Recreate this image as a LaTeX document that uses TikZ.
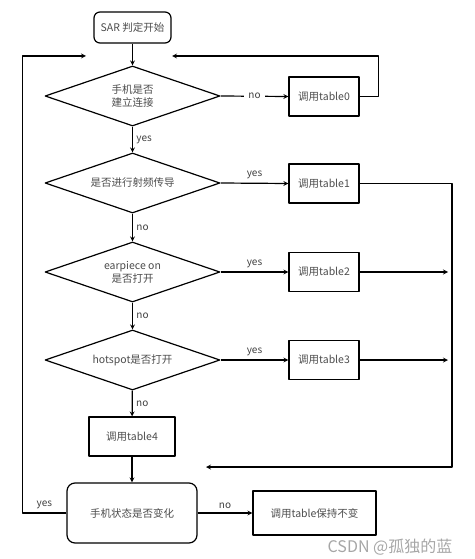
\documentclass[tikz,border=0pt]{standalone}
\usepackage{fontspec}
\setmainfont{Noto Sans CJK SC}
\usetikzlibrary{shapes.geometric}
\begin{document}
\begin{tikzpicture}[x=1pt,y=-1pt,line width=1.2pt,line join=round,>=stealth,
	font=\fontsize{10.5}{13}\selectfont,text=black!70,
	startbox/.style={draw,rounded corners=6pt,minimum width=77pt,minimum height=31pt,inner sep=2pt},
	decide/.style={draw,diamond,aspect=2.9,minimum width=175pt,minimum height=60pt,inner sep=0pt,align=center},
	tablebox/.style={draw,minimum width=70pt,minimum height=39pt,inner sep=2pt},
	lbl/.style={font=\fontsize{10}{12}\selectfont,text=black!75}]
	\useasboundingbox (0,0) rectangle (474,559);
	% main column
	\node[startbox] (start) at (132.5,27.5) {SAR 判定开始};
	\node[decide] (d1) at (132.5,96) {手机是否\\建立连接};
	\node[decide] (d2) at (132.5,183) {是否进行射频传导};
	\node[decide] (d3) at (132.5,272) {earpiece on\\是否打开};
	\node[decide] (d4) at (132.5,360) {hotspot是否打开};
	\node[tablebox,minimum width=86pt] (t4) at (132,436.5) {调用table4};
	\node[draw,rounded corners=8pt,minimum width=130pt,minimum height=60pt] (chg) at (132,513) {手机状态是否变化};
	% right column
	\node[tablebox] (t0) at (324,96.5) {调用table0};
	\node[tablebox] (t1) at (324,183.5) {调用table1};
	\node[tablebox] (t2) at (324,272) {调用table2};
	\node[tablebox] (t3) at (324,360) {调用table3};
	\node[tablebox,minimum width=123pt,minimum height=44pt] (keep) at (314.5,513) {调用table保持不变};
	\node[text=black!35,font=\fontsize{16}{18}\selectfont] (mark) at (390,547) {CSDN @孤独的蓝};
	% free ends
	\coordinate (back0) at (172,56);
	\coordinate (back5) at (86,56);
	\coordinate (railtop) at (452,183.5);
	\coordinate (railbot) at (452,467);
	\coordinate (back4) at (206,467);
	% connectors
	\draw[->] (start) -- (d1);
	\draw[->] (d1) -- node[lbl,right]{yes} (d2);
	\draw[->] (d2) -- node[lbl,right]{no} (d3);
	\draw[->] (d3) -- node[lbl,right]{no} (d4);
	\draw[->] (d4) -- node[lbl,right]{no} (t4);
	\draw[->] (t4) -- (chg);
	\draw[->] (d1.east) -- node[lbl,fill=white,inner sep=4pt]{no} (t0.west);
	\draw[->] (d2.east) -- node[lbl,above]{yes} (t1.west);
	\draw[->] (d3.east) -- node[lbl,above]{yes} (t2.west);
	\draw[->] (d4.east) -- node[lbl,above]{yes} (t3.west);
	\draw[->] (chg) -- node[lbl,above]{no} (keep);
	\draw[->] (t0.east) -- ++(19,0) |- (back0);
	\draw[->] (chg.west) -- node[lbl,above]{yes} ++(-44,0) |- (back5);
	\draw[->] (t1.east) -- (railtop) -- (railbot) -- (back4);
	\draw[->,shorten >=4pt] (t2.east) -- (t2.east -| railtop);
	\draw[->,shorten >=4pt] (t3.east) -- (t3.east -| railtop);
\end{tikzpicture}
\end{document}
